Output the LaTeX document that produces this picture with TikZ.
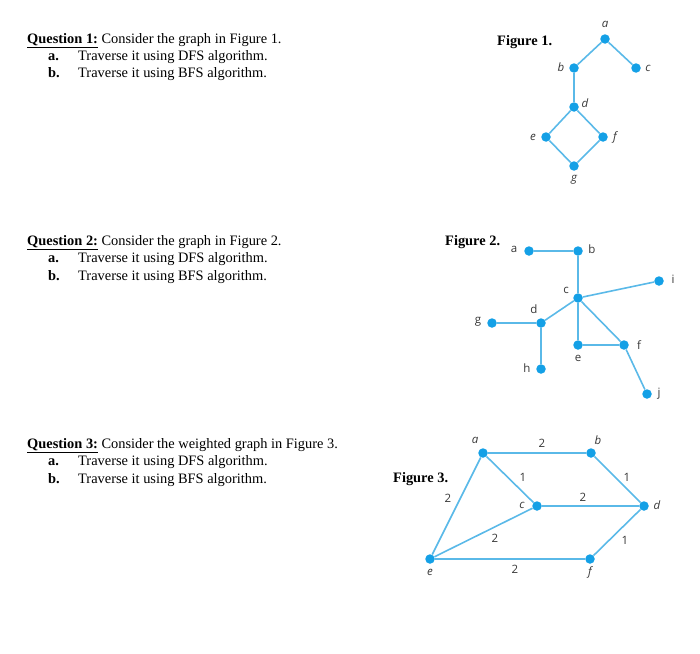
\documentclass[tikz,border=0pt]{standalone}
\usepackage{fontspec}
\setmainfont{Liberation Serif}
\newfontfamily\lblfont{Open Sans}
\begin{document}
\begin{tikzpicture}[x=1pt,y=-1pt,
  vert/.style={circle,fill=vcol,inner sep=0pt,minimum size=9.5pt},
  edge/.style={draw=ecol,line width=1.6pt},
  lbl/.style={font=\lblfont\fontsize{11.5}{12}\selectfont\itshape,text=lcol,inner sep=0pt},
  lblu/.style={font=\lblfont\fontsize{11.5}{12}\selectfont,text=lcol,inner sep=0pt},
  wlbl/.style={font=\lblfont\fontsize{11.5}{12}\selectfont,text=lcol,inner sep=0pt},
  qtext/.style={anchor=base west,inner sep=0pt,font=\fontsize{14.4}{16}\selectfont},
  figt/.style={anchor=base west,inner sep=0pt,font=\fontsize{14.4}{16}\selectfont\bfseries}]
\definecolor{vcol}{RGB}{20,160,230}
\definecolor{ecol}{RGB}{90,185,232}
\definecolor{lcol}{RGB}{55,55,55}
\useasboundingbox (0,0) rectangle (700,653);
% ---------- Questions ----------
\node[qtext] (q1) at (27,43) {\textbf{\underline{Question 1:}} Consider the graph in Figure 1.};
\node[qtext] (q1a) at (48,60) {\textbf{a.}};
\node[qtext] (q1at) at (78,60) {Traverse it using DFS algorithm.};
\node[qtext] (q1b) at (48,77) {\textbf{b.}};
\node[qtext] (q1bt) at (78,77) {Traverse it using BFS algorithm.};
\node[qtext] (q2) at (27,245) {\textbf{\underline{Question 2:}} Consider the graph in Figure 2.};
\node[qtext] (q2a) at (48,262) {\textbf{a.}};
\node[qtext] (q2at) at (78,262) {Traverse it using DFS algorithm.};
\node[qtext] (q2b) at (48,280) {\textbf{b.}};
\node[qtext] (q2bt) at (78,280) {Traverse it using BFS algorithm.};
\node[qtext] (q3) at (27,448) {\textbf{\underline{Question 3:}} Consider the weighted graph in Figure 3.};
\node[qtext] (q3a) at (48,465) {\textbf{a.}};
\node[qtext] (q3at) at (78,465) {Traverse it using DFS algorithm.};
\node[qtext] (q3b) at (48,483) {\textbf{b.}};
\node[qtext] (q3bt) at (78,483) {Traverse it using BFS algorithm.};
% ---------- Figure 1 ----------
\node[figt] (f1) at (497,45) {Figure 1.};
\node[vert] (a1) at (605,39) {};
\node[vert] (b1) at (574,68) {};
\node[vert] (c1) at (636,68) {};
\node[vert] (d1) at (574,107) {};
\node[vert] (e1) at (546,137) {};
\node[vert] (f1v) at (603,137) {};
\node[vert] (g1) at (574,166) {};
\draw[edge] (a1) -- (b1); \draw[edge] (a1) -- (c1);
\draw[edge] (b1) -- (d1); \draw[edge] (d1) -- (e1);
\draw[edge] (d1) -- (f1v); \draw[edge] (e1) -- (g1);
\draw[edge] (f1v) -- (g1);
\node[lbl] (la1) at (605,24) {a};
\node[lbl] (lb1) at (561,67) {b};
\node[lbl] (lc1) at (648,68) {c};
\node[lbl] (ld1) at (585,103) {d};
\node[lbl] (le1) at (533,137) {e};
\node[lbl] (lf1) at (615,137) {f};
\node[lbl] (lg1) at (574,180) {g};
% ---------- Figure 2 ----------
\node[figt] (f2) at (445,245) {Figure 2.};
\node[vert] (a2) at (529,251) {};
\node[vert] (b2) at (578,251) {};
\node[vert] (c2) at (578,298) {};
\node[vert] (i2) at (659,281) {};
\node[vert] (d2) at (541,323) {};
\node[vert] (g2) at (492,323) {};
\node[vert] (e2) at (578,345) {};
\node[vert] (f2v) at (624,345) {};
\node[vert] (h2) at (541,369) {};
\node[vert] (j2) at (647,394) {};
\draw[edge] (a2) -- (b2); \draw[edge] (b2) -- (c2);
\draw[edge] (c2) -- (i2); \draw[edge] (c2) -- (d2);
\draw[edge] (d2) -- (g2); \draw[edge] (d2) -- (h2);
\draw[edge] (c2) -- (e2); \draw[edge] (c2) -- (f2v);
\draw[edge] (e2) -- (f2v); \draw[edge] (f2v) -- (j2);
\node[lblu] (la2) at (514,249) {a};
\node[lblu] (lb2) at (592,249) {b};
\node[lblu] (lc2) at (566,290) {c};
\node[lblu] (li2) at (673,279) {i};
\node[lblu] (ld2) at (534,309) {d};
\node[lblu] (lg2) at (478,322) {g};
\node[lblu] (le2) at (578,358) {e};
\node[lblu] (lf2) at (639,345) {f};
\node[lblu] (lh2) at (527,368) {h};
\node[lblu] (lj2) at (659,394) {j};
% ---------- Figure 3 ----------
\node[figt] (f3) at (393,482) {Figure 3.};
\node[vert] (a3) at (483,453) {};
\node[vert] (b3) at (591,453) {};
\node[vert] (c3) at (537,506) {};
\node[vert] (d3) at (644,506) {};
\node[vert] (e3) at (430,559) {};
\node[vert] (f3v) at (590,559) {};
\draw[edge] (a3) -- (b3); \draw[edge] (a3) -- (c3);
\draw[edge] (b3) -- (d3); \draw[edge] (e3) -- (a3);
\draw[edge] (c3) -- (d3); \draw[edge] (e3) -- (c3);
\draw[edge] (f3v) -- (d3); \draw[edge] (e3) -- (f3v);
\node[lbl] (la3) at (475,440) {a};
\node[lbl] (lb3) at (598,440) {b};
\node[lbl] (lc3) at (522,505) {c};
\node[lbl] (ld3) at (657,505) {d};
\node[lbl] (le3) at (430,572) {e};
\node[lbl] (lf3) at (590,572) {f};
\node[wlbl] (wab) at (542,443) {2};
\node[wlbl] (wac) at (523,477) {1};
\node[wlbl] (wbd) at (627,477) {1};
\node[wlbl] (wea) at (448,498) {2};
\node[wlbl] (wcd) at (583,497) {2};
\node[wlbl] (wec) at (495,538) {2};
\node[wlbl] (wfd) at (625,540) {1};
\node[wlbl] (wef) at (515,569) {2};
\end{tikzpicture}
\end{document}
